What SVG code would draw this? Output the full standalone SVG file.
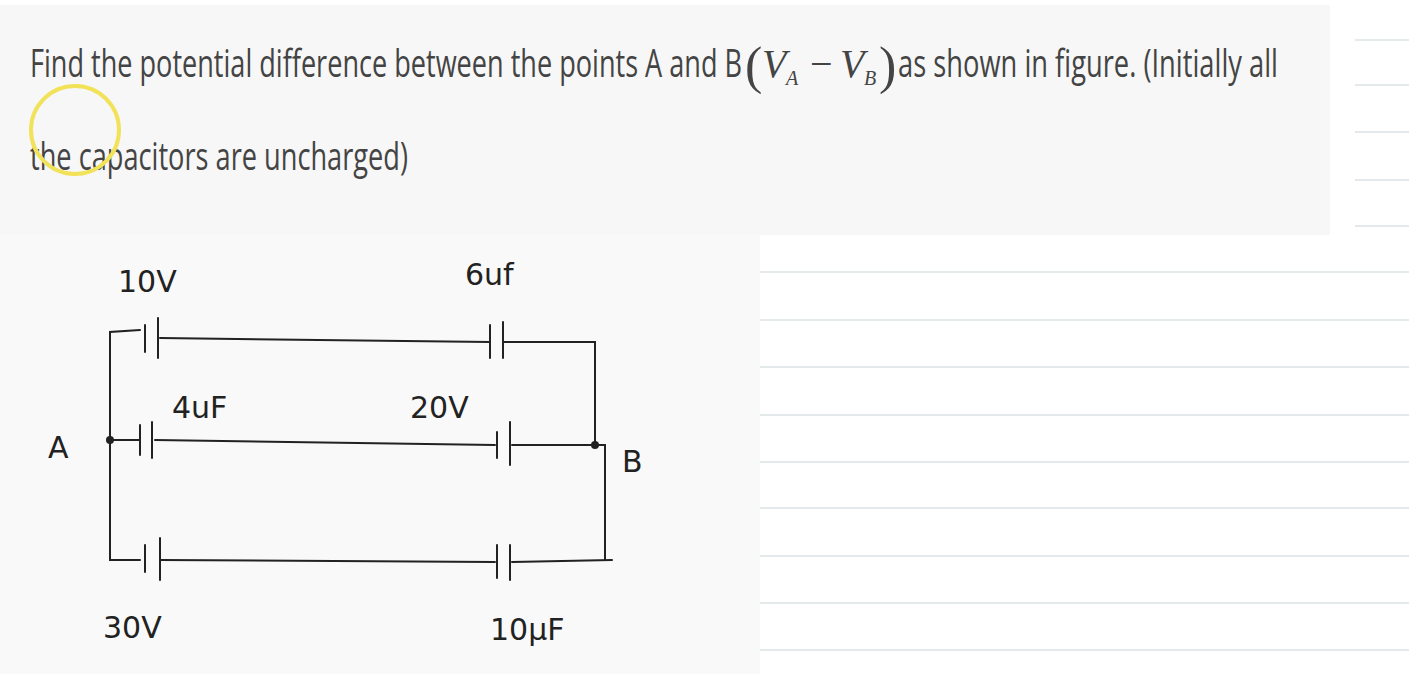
<svg xmlns="http://www.w3.org/2000/svg" width="1409" height="674" viewBox="0 0 1409 674">
<style>
.rule{stroke:#c9d6da;stroke-width:1.2}
.w{stroke:#222;stroke-width:2;fill:none;stroke-linecap:round}
.hw{font-family:"DejaVu Sans",sans-serif;font-size:30px;fill:#222}
.q{font-family:"Open Sans",sans-serif;font-size:38px;fill:#444}
.m{font-family:"Liberation Serif",serif;font-style:italic;font-size:40px;fill:#444}
</style>
<rect width="1409" height="674" fill="#fff"/>
<rect x="0" y="5" width="1330" height="230" fill="#f7f7f7"/>
<rect x="0" y="235" width="760" height="439" fill="#f9f9f9"/>
<g>
<line class="rule" x1="1355" y1="40" x2="1409" y2="40"/>
<line class="rule" x1="1355" y1="85" x2="1409" y2="85"/>
<line class="rule" x1="1355" y1="132" x2="1409" y2="132"/>
<line class="rule" x1="1355" y1="180" x2="1409" y2="180"/>
<line class="rule" x1="1355" y1="226" x2="1409" y2="226"/>
<line class="rule" x1="760" y1="272" x2="1409" y2="272"/>
<line class="rule" x1="760" y1="320" x2="1409" y2="320"/>
<line class="rule" x1="760" y1="367" x2="1409" y2="367"/>
<line class="rule" x1="760" y1="415" x2="1409" y2="415"/>
<line class="rule" x1="760" y1="462" x2="1409" y2="462"/>
<line class="rule" x1="760" y1="508" x2="1409" y2="508"/>
<line class="rule" x1="760" y1="556" x2="1409" y2="556"/>
<line class="rule" x1="760" y1="603" x2="1409" y2="603"/>
<line class="rule" x1="760" y1="650" x2="1409" y2="650"/>
</g>
<text class="q" x="30" y="77" textLength="712" lengthAdjust="spacingAndGlyphs">Find the potential difference between the points A and B</text>
<text class="q" x="745" y="83" style="font-size:52px;font-family:'Liberation Serif',serif">(</text>
<text class="m" x="762" y="77">V</text>
<text class="m" x="786" y="85" style="font-size:20px">A</text>
<text class="m" x="810" y="77" style="font-style:normal">−</text>
<text class="m" x="840" y="77">V</text>
<text class="m" x="864" y="85" style="font-size:20px">B</text>
<text class="q" x="879" y="83" style="font-size:52px;font-family:'Liberation Serif',serif">)</text>
<text class="q" x="898" y="77" textLength="380" lengthAdjust="spacingAndGlyphs">as shown in figure. (Initially all</text>
<text class="q" x="30" y="170" textLength="378" lengthAdjust="spacingAndGlyphs">the capacitors are uncharged)</text>
<circle cx="75" cy="130" r="44" fill="none" stroke="#f2e25a" stroke-width="4"/>
<g id="connectors">
<path class="w" d="M140,330 L110,332 L110,560 L140,560"/>
<path class="w" d="M160,338 L490,342"/>
<path class="w" d="M503,342 L595,342 L595,445"/>
<path class="w" d="M110,440 L140,440"/>
<path class="w" d="M155,440 L495,445"/>
<path class="w" d="M512,445 L595,445"/>
<path class="w" d="M595,445 L605,445 L605,560"/>
<path class="w" d="M160,560 L495,562"/>
<path class="w" d="M512,562 L612,560"/>
</g>
<g id="bat10"><path class="w" d="M145,325 V352 M158,318 V358"/></g>
<g id="cap6"><path class="w" d="M490,325 V358 M503,322 V358"/></g>
<g id="cap4"><path class="w" d="M140,425 V455 M152,422 V458"/></g>
<g id="bat20"><path class="w" d="M497,432 V458 M510,422 V465"/></g>
<g id="bat30"><path class="w" d="M145,545 V572 M160,538 V580"/></g>
<g id="cap10"><path class="w" d="M497,545 V578 M510,545 V580"/></g>
<circle cx="110" cy="440" r="4" fill="#222"/>
<circle cx="595" cy="445" r="4" fill="#222"/>
<text class="hw" x="48" y="458" font-size="38">A</text>
<text class="hw" x="622" y="472" font-size="38">B</text>
<text class="hw" x="118" y="292">10V</text>
<text class="hw" x="465" y="285">6uf</text>
<text class="hw" x="172" y="418">4uF</text>
<text class="hw" x="410" y="418">20V</text>
<text class="hw" x="103" y="638">30V</text>
<text class="hw" x="490" y="640">10μF</text>
</svg>
